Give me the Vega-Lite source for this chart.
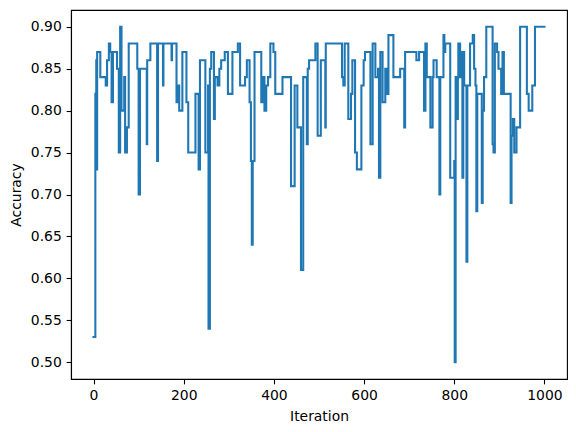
{
  "$schema": "https://vega.github.io/schema/vega-lite/v6.json",
  "description": "Step line of accuracy per iteration",
  "width": 496,
  "height": 369,
  "autosize": {"type": "none"},
  "padding": {"left": 71, "top": 10, "right": 9, "bottom": 53},
  "background": "white",
  "data": {
    "values": [
      {"iteration": 0, "accuracy": 0.53},
      {"iteration": 4, "accuracy": 0.82},
      {"iteration": 5, "accuracy": 0.73},
      {"iteration": 6, "accuracy": 0.86},
      {"iteration": 7, "accuracy": 0.73},
      {"iteration": 8, "accuracy": 0.87},
      {"iteration": 15, "accuracy": 0.84},
      {"iteration": 27, "accuracy": 0.83},
      {"iteration": 30, "accuracy": 0.86},
      {"iteration": 34, "accuracy": 0.88},
      {"iteration": 37, "accuracy": 0.87},
      {"iteration": 40, "accuracy": 0.81},
      {"iteration": 43, "accuracy": 0.87},
      {"iteration": 52, "accuracy": 0.85},
      {"iteration": 56, "accuracy": 0.75},
      {"iteration": 59, "accuracy": 0.90},
      {"iteration": 62, "accuracy": 0.80},
      {"iteration": 68, "accuracy": 0.84},
      {"iteration": 70, "accuracy": 0.75},
      {"iteration": 74, "accuracy": 0.78},
      {"iteration": 78, "accuracy": 0.88},
      {"iteration": 97, "accuracy": 0.85},
      {"iteration": 100, "accuracy": 0.70},
      {"iteration": 103, "accuracy": 0.85},
      {"iteration": 118, "accuracy": 0.76},
      {"iteration": 119, "accuracy": 0.86},
      {"iteration": 126, "accuracy": 0.88},
      {"iteration": 141, "accuracy": 0.74},
      {"iteration": 143, "accuracy": 0.88},
      {"iteration": 154, "accuracy": 0.83},
      {"iteration": 155, "accuracy": 0.88},
      {"iteration": 173, "accuracy": 0.86},
      {"iteration": 174, "accuracy": 0.88},
      {"iteration": 184, "accuracy": 0.81},
      {"iteration": 186, "accuracy": 0.83},
      {"iteration": 190, "accuracy": 0.80},
      {"iteration": 197, "accuracy": 0.87},
      {"iteration": 206, "accuracy": 0.81},
      {"iteration": 210, "accuracy": 0.75},
      {"iteration": 226, "accuracy": 0.82},
      {"iteration": 233, "accuracy": 0.73},
      {"iteration": 236, "accuracy": 0.86},
      {"iteration": 248, "accuracy": 0.75},
      {"iteration": 254, "accuracy": 0.83},
      {"iteration": 255, "accuracy": 0.54},
      {"iteration": 258, "accuracy": 0.85},
      {"iteration": 261, "accuracy": 0.87},
      {"iteration": 267, "accuracy": 0.79},
      {"iteration": 269, "accuracy": 0.84},
      {"iteration": 275, "accuracy": 0.83},
      {"iteration": 279, "accuracy": 0.85},
      {"iteration": 283, "accuracy": 0.86},
      {"iteration": 291, "accuracy": 0.87},
      {"iteration": 298, "accuracy": 0.82},
      {"iteration": 308, "accuracy": 0.87},
      {"iteration": 320, "accuracy": 0.88},
      {"iteration": 325, "accuracy": 0.83},
      {"iteration": 336, "accuracy": 0.84},
      {"iteration": 340, "accuracy": 0.86},
      {"iteration": 346, "accuracy": 0.81},
      {"iteration": 349, "accuracy": 0.74},
      {"iteration": 351, "accuracy": 0.64},
      {"iteration": 353, "accuracy": 0.74},
      {"iteration": 357, "accuracy": 0.87},
      {"iteration": 372, "accuracy": 0.81},
      {"iteration": 375, "accuracy": 0.84},
      {"iteration": 379, "accuracy": 0.80},
      {"iteration": 383, "accuracy": 0.83},
      {"iteration": 387, "accuracy": 0.84},
      {"iteration": 392, "accuracy": 0.88},
      {"iteration": 399, "accuracy": 0.87},
      {"iteration": 403, "accuracy": 0.82},
      {"iteration": 419, "accuracy": 0.84},
      {"iteration": 438, "accuracy": 0.71},
      {"iteration": 446, "accuracy": 0.83},
      {"iteration": 452, "accuracy": 0.78},
      {"iteration": 460, "accuracy": 0.61},
      {"iteration": 465, "accuracy": 0.84},
      {"iteration": 473, "accuracy": 0.76},
      {"iteration": 475, "accuracy": 0.85},
      {"iteration": 478, "accuracy": 0.86},
      {"iteration": 492, "accuracy": 0.88},
      {"iteration": 497, "accuracy": 0.77},
      {"iteration": 504, "accuracy": 0.86},
      {"iteration": 514, "accuracy": 0.78},
      {"iteration": 515, "accuracy": 0.88},
      {"iteration": 551, "accuracy": 0.84},
      {"iteration": 554, "accuracy": 0.83},
      {"iteration": 557, "accuracy": 0.88},
      {"iteration": 565, "accuracy": 0.79},
      {"iteration": 571, "accuracy": 0.82},
      {"iteration": 574, "accuracy": 0.86},
      {"iteration": 580, "accuracy": 0.75},
      {"iteration": 584, "accuracy": 0.73},
      {"iteration": 594, "accuracy": 0.83},
      {"iteration": 599, "accuracy": 0.86},
      {"iteration": 602, "accuracy": 0.87},
      {"iteration": 614, "accuracy": 0.76},
      {"iteration": 619, "accuracy": 0.88},
      {"iteration": 625, "accuracy": 0.84},
      {"iteration": 631, "accuracy": 0.85},
      {"iteration": 633, "accuracy": 0.72},
      {"iteration": 636, "accuracy": 0.87},
      {"iteration": 641, "accuracy": 0.81},
      {"iteration": 647, "accuracy": 0.85},
      {"iteration": 650, "accuracy": 0.82},
      {"iteration": 654, "accuracy": 0.89},
      {"iteration": 665, "accuracy": 0.84},
      {"iteration": 680, "accuracy": 0.85},
      {"iteration": 689, "accuracy": 0.78},
      {"iteration": 691, "accuracy": 0.87},
      {"iteration": 716, "accuracy": 0.86},
      {"iteration": 722, "accuracy": 0.87},
      {"iteration": 733, "accuracy": 0.80},
      {"iteration": 736, "accuracy": 0.88},
      {"iteration": 739, "accuracy": 0.84},
      {"iteration": 747, "accuracy": 0.78},
      {"iteration": 752, "accuracy": 0.84},
      {"iteration": 754, "accuracy": 0.86},
      {"iteration": 761, "accuracy": 0.84},
      {"iteration": 767, "accuracy": 0.70},
      {"iteration": 769, "accuracy": 0.84},
      {"iteration": 776, "accuracy": 0.89},
      {"iteration": 778, "accuracy": 0.87},
      {"iteration": 780, "accuracy": 0.88},
      {"iteration": 791, "accuracy": 0.72},
      {"iteration": 800, "accuracy": 0.74},
      {"iteration": 801, "accuracy": 0.50},
      {"iteration": 803, "accuracy": 0.84},
      {"iteration": 806, "accuracy": 0.79},
      {"iteration": 808, "accuracy": 0.84},
      {"iteration": 809, "accuracy": 0.88},
      {"iteration": 813, "accuracy": 0.84},
      {"iteration": 814, "accuracy": 0.87},
      {"iteration": 818, "accuracy": 0.72},
      {"iteration": 820, "accuracy": 0.87},
      {"iteration": 822, "accuracy": 0.83},
      {"iteration": 827, "accuracy": 0.62},
      {"iteration": 829, "accuracy": 0.83},
      {"iteration": 835, "accuracy": 0.88},
      {"iteration": 841, "accuracy": 0.89},
      {"iteration": 844, "accuracy": 0.85},
      {"iteration": 847, "accuracy": 0.83},
      {"iteration": 849, "accuracy": 0.68},
      {"iteration": 851, "accuracy": 0.82},
      {"iteration": 861, "accuracy": 0.69},
      {"iteration": 863, "accuracy": 0.80},
      {"iteration": 866, "accuracy": 0.84},
      {"iteration": 871, "accuracy": 0.90},
      {"iteration": 885, "accuracy": 0.76},
      {"iteration": 887, "accuracy": 0.75},
      {"iteration": 890, "accuracy": 0.88},
      {"iteration": 895, "accuracy": 0.87},
      {"iteration": 898, "accuracy": 0.85},
      {"iteration": 904, "accuracy": 0.82},
      {"iteration": 907, "accuracy": 0.87},
      {"iteration": 910, "accuracy": 0.82},
      {"iteration": 925, "accuracy": 0.69},
      {"iteration": 927, "accuracy": 0.77},
      {"iteration": 930, "accuracy": 0.79},
      {"iteration": 933, "accuracy": 0.75},
      {"iteration": 938, "accuracy": 0.78},
      {"iteration": 946, "accuracy": 0.90},
      {"iteration": 961, "accuracy": 0.82},
      {"iteration": 965, "accuracy": 0.80},
      {"iteration": 973, "accuracy": 0.83},
      {"iteration": 979, "accuracy": 0.90},
      {"iteration": 1000, "accuracy": 0.90}
    ]
  },
  "mark": {"type": "line", "interpolate": "step-after", "color": "#1f77b4", "strokeWidth": 2.08, "strokeCap": "square"},
  "encoding": {
    "x": {
      "field": "iteration",
      "type": "quantitative",
      "title": "Iteration",
      "scale": {"domain": [-50, 1050], "nice": false, "zero": false},
      "axis": {"values": [0, 200, 400, 600, 800, 1000], "format": "d", "titlePadding": 7}
    },
    "y": {
      "field": "accuracy",
      "type": "quantitative",
      "title": "Accuracy",
      "scale": {"domain": [0.48, 0.92], "nice": false, "zero": false},
      "axis": {"values": [0.5, 0.55, 0.6, 0.65, 0.7, 0.75, 0.8, 0.85, 0.9], "format": ".2f", "titlePadding": 7}
    }
  },
  "config": {
    "view": {"stroke": "black", "strokeWidth": 1.1},
    "axis": {
      "grid": false,
      "domainColor": "black",
      "domainWidth": 1.1,
      "tickColor": "black",
      "tickWidth": 1.1,
      "tickSize": 4.86,
      "labelPadding": 4.86,
      "labelFont": "DejaVu Sans",
      "labelFontSize": 13.9,
      "labelColor": "black",
      "titleFont": "DejaVu Sans",
      "titleFontSize": 13.9,
      "titleFontWeight": "normal",
      "titleColor": "black"
    }
  }
}
